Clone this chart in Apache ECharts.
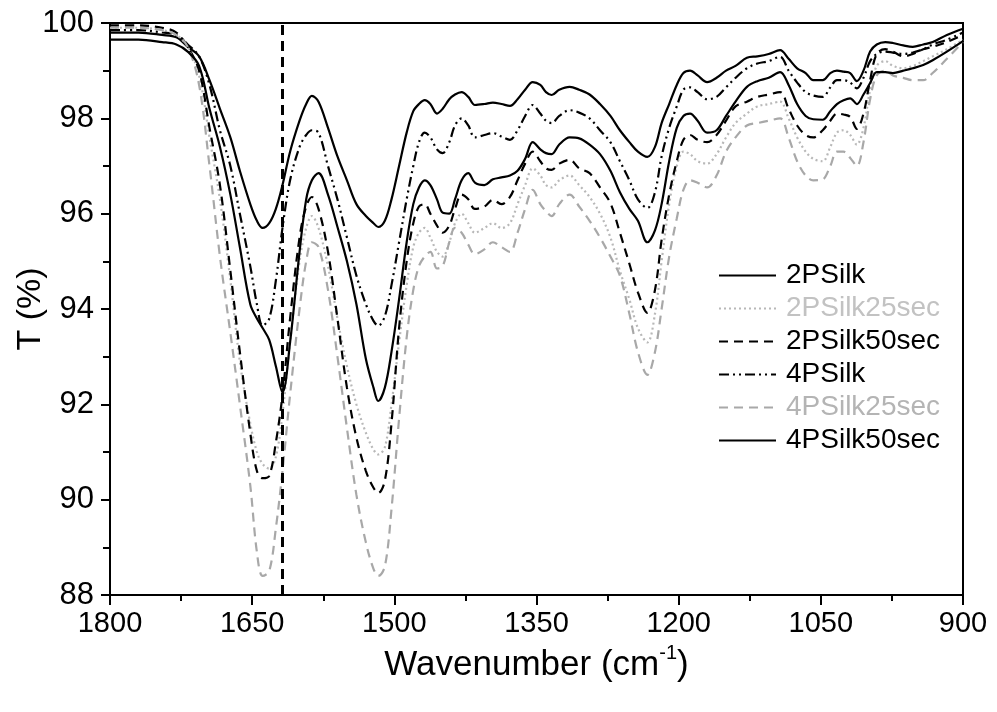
<!DOCTYPE html>
<html>
<head>
<meta charset="utf-8">
<script src="https://cdn.jsdelivr.net/npm/echarts@6/dist/echarts.min.js"></script>
<style>
  html, body { margin: 0; padding: 0; background: #fff; }
  #chart { width: 997px; height: 712px; }
</style>
</head>
<body>
<div id="chart"></div>
<script>
// wavenumber grid (cm-1), shared by every spectrum
const wavenumbers = [
  1800, 1770, 1745, 1730, 1718, 1706, 1695, 1684, 1673, 1663,
  1652, 1645, 1639, 1632, 1625, 1618, 1610, 1600, 1593, 1587,
  1580, 1570, 1560, 1550, 1540, 1530, 1522, 1517, 1510, 1503,
  1495, 1487, 1480, 1474, 1468, 1462, 1455, 1449, 1442, 1436,
  1429, 1422, 1415, 1405, 1396, 1387, 1378, 1370, 1362, 1354,
  1346, 1340, 1334, 1326, 1315, 1305, 1294, 1283, 1272, 1262,
  1252, 1243, 1233, 1225, 1218, 1210, 1202, 1195, 1188, 1180,
  1170, 1160, 1150, 1140, 1128, 1117, 1105, 1093, 1084, 1075,
  1066, 1058, 1048, 1040, 1033, 1026, 1019, 1012, 1005, 998,
  991, 982, 974, 963, 953, 942, 932, 917, 900
]

const t2PSilk = [
  99.8, 99.8, 99.75, 99.7, 99.5, 99.3, 98.8, 98.2, 97.6, 96.9,
  96.2, 95.85, 95.7, 95.8, 96.1, 96.6, 97.3, 97.95, 98.3, 98.47,
  98.35, 97.8, 97.2, 96.7, 96.2, 95.95, 95.8, 95.72, 95.85, 96.3,
  97.0, 97.7, 98.15, 98.3, 98.38, 98.3, 98.1, 98.2, 98.4, 98.5,
  98.55, 98.45, 98.28, 98.3, 98.33, 98.3, 98.26, 98.4, 98.6, 98.76,
  98.7, 98.55, 98.49, 98.6, 98.66, 98.6, 98.5, 98.3, 98.05, 97.75,
  97.5, 97.3, 97.19, 97.4, 97.9, 98.3, 98.7, 98.95, 99.0, 98.9,
  98.76, 98.85, 99.0, 99.1, 99.27, 99.3, 99.35, 99.43, 99.25, 99.05,
  98.95, 98.8, 98.8, 98.95, 99.0, 98.98, 98.95, 98.78, 99.0, 99.4,
  99.55, 99.6, 99.58, 99.53, 99.5, 99.55, 99.6, 99.75, 99.88
]

const t2PSilk25sec = [
  99.9, 99.9, 99.85, 99.75, 99.5, 98.9, 97.6, 96.3, 94.6, 92.9,
  91.6, 91.0, 90.75, 90.65, 90.9, 91.8, 93.3, 95.0, 95.7, 95.95,
  95.7, 94.9, 93.8, 92.8, 92.0, 91.4, 91.05, 90.95, 91.1, 92.0,
  93.3, 94.5, 95.3, 95.6, 95.7, 95.5, 95.2, 95.1, 95.4, 95.8,
  96.0, 95.8, 95.6, 95.7, 95.8, 95.7, 95.8, 96.2, 96.6, 96.95,
  96.8, 96.6, 96.55, 96.7, 96.8, 96.6, 96.35, 96.0, 95.5, 94.8,
  94.2, 93.6, 93.3, 93.9, 95.0, 96.2, 97.0, 97.3, 97.25, 97.1,
  97.05, 97.25, 97.6, 97.9, 98.1, 98.25, 98.3, 98.35, 98.0, 97.6,
  97.3, 97.15, 97.1, 97.4, 97.7, 97.75, 97.65, 97.45, 97.8, 98.6,
  99.1, 99.2, 99.1, 99.05, 99.1, 99.2, 99.3, 99.45, 99.65
]

const t2PSilk50sec = [
  99.95, 99.95, 99.9, 99.8, 99.5, 99.0, 97.8, 96.6, 94.8, 93.1,
  91.4, 90.6, 90.45, 90.5, 91.2, 92.2, 93.8, 95.5, 96.15, 96.35,
  96.1, 95.2, 93.8, 92.35, 91.3, 90.6, 90.25, 90.14, 90.4, 91.6,
  93.6, 95.0, 95.8, 96.15, 96.2, 96.0, 95.75, 95.6, 95.75, 96.1,
  96.4, 96.3, 96.1, 96.15, 96.29, 96.2, 96.35, 96.7, 97.05, 97.3,
  97.1, 96.95, 96.92, 97.05, 97.13, 96.95, 96.85, 96.55, 96.22, 95.6,
  94.95, 94.35, 93.92, 94.4, 95.45, 96.4, 97.1, 97.55, 97.65, 97.55,
  97.5, 97.65, 97.95, 98.25, 98.35, 98.45, 98.5, 98.55, 98.2, 97.85,
  97.65, 97.6, 97.75, 97.95, 98.1, 98.08, 98.03, 97.78, 98.1, 98.8,
  99.35, 99.45, 99.4, 99.3, 99.35, 99.45, 99.5, 99.6, 99.75
]

const t4PSilk = [
  99.85, 99.85, 99.8, 99.75, 99.55, 99.3, 98.7, 97.75, 97.0, 96.0,
  94.9, 94.1, 93.65, 93.8, 94.6, 95.7, 96.7, 97.4, 97.65, 97.75,
  97.7, 97.0, 96.3, 95.5, 94.7, 94.1, 93.75, 93.65, 93.85, 94.5,
  95.4, 96.3, 97.0, 97.5, 97.7, 97.6, 97.35, 97.27, 97.5, 97.85,
  98.0, 97.85, 97.6, 97.65, 97.69, 97.62, 97.55, 97.75, 98.05, 98.28,
  98.1, 97.95, 97.9, 98.05, 98.17, 98.12, 98.0, 97.75, 97.5, 97.1,
  96.7, 96.3, 96.12, 96.45, 97.2, 97.8, 98.25, 98.6, 98.65, 98.55,
  98.4, 98.45, 98.65, 98.85, 99.05, 99.15, 99.2, 99.29, 99.0, 98.75,
  98.55, 98.48, 98.45, 98.65, 98.8, 98.8, 98.75, 98.63, 98.85, 99.2,
  99.35, 99.4, 99.38, 99.35, 99.38, 99.45, 99.55, 99.65, 99.8
]

const t4PSilk25sec = [
  99.9, 99.9, 99.85, 99.75, 99.5, 98.7, 97.0, 95.1, 93.5, 92.0,
  90.3, 88.9, 88.4, 88.5, 89.4, 90.6, 92.2, 94.0, 95.0, 95.4,
  95.3, 94.4, 93.0, 91.5, 90.1, 89.1, 88.55, 88.4, 88.6, 89.8,
  91.7, 93.4, 94.4, 94.9, 95.1, 95.2, 94.85, 94.9, 95.4, 95.7,
  95.6, 95.35, 95.15, 95.25, 95.4, 95.3, 95.2, 95.6, 96.1, 96.5,
  96.2, 96.05, 95.95, 96.2, 96.4, 96.15, 95.85, 95.5, 95.1, 94.7,
  93.9, 93.1, 92.62, 93.1, 94.0, 95.1, 95.9, 96.5, 96.7, 96.65,
  96.55, 96.8, 97.3, 97.6, 97.85, 97.9, 97.95, 98.0, 97.6, 97.1,
  96.8, 96.7, 96.72, 97.0, 97.3, 97.3, 97.17, 97.0, 97.5, 98.4,
  98.9, 99.0, 98.9, 98.85, 98.8, 98.8, 98.95, 99.25, 99.6
]

const t4PSilk50sec = [
  99.65, 99.65, 99.6, 99.55, 99.4, 99.1, 98.2, 97.4, 96.4, 95.3,
  94.1, 93.8, 93.6, 93.35, 92.8, 92.25, 93.3, 95.2, 96.3, 96.7,
  96.85, 96.4, 95.72, 95.0, 94.1, 92.95, 92.35, 92.07, 92.35, 93.1,
  94.2, 95.4, 96.2, 96.55, 96.7, 96.6, 96.3, 96.02, 96.0, 96.3,
  96.7, 96.85, 96.65, 96.6, 96.72, 96.76, 96.8, 96.9, 97.15, 97.5,
  97.35, 97.27, 97.25, 97.45, 97.6, 97.58, 97.45, 97.25, 96.9, 96.45,
  96.1, 95.85, 95.4, 95.65, 96.2, 97.1, 97.8, 98.05, 98.1, 97.95,
  97.7, 97.75, 98.05, 98.35, 98.66, 98.78, 98.85, 98.97, 98.7, 98.3,
  98.05, 97.98, 97.97, 98.15, 98.3, 98.38, 98.42, 98.3, 98.5, 98.74,
  98.97, 98.97, 98.95, 99.0, 99.05, 99.12, 99.22, 99.4, 99.62
]

const markerWavenumber = 1618

const seriesDefs = [
  { name: '2PSilk', values: t2PSilk, color: '#000', type: 'solid', text: '#000' },
  { name: '2PSilk25sec', values: t2PSilk25sec, color: '#b8b8b8', type: [2, 3], text: '#c2c2c2' },
  { name: '2PSilk50sec', values: t2PSilk50sec, color: '#000', type: [9, 6], text: '#000' },
  { name: '4PSilk', values: t4PSilk, color: '#000', type: [10, 4, 2, 4, 2, 4], text: '#000' },
  { name: '4PSilk25sec', values: t4PSilk25sec, color: '#a8a8a8', type: [9, 6], text: '#b4b4b4' },
  { name: '4PSilk50sec', values: t4PSilk50sec, color: '#000', type: 'solid', text: '#000' }
]

const font = '"Liberation Sans", Arial, Helvetica, sans-serif'

const chart = echarts.init(document.getElementById('chart'))

const series = seriesDefs.map((s, idx) => {
  const item = {
    name: s.name,
    type: 'line',
    data: wavenumbers.map((w, i) => [w, s.values[i]]),
    smooth: 0.35,
    symbol: 'none',
    lineStyle: { color: s.color, width: 2.2, type: s.type },
    itemStyle: { color: s.color },
    z: 3
  }
  if (idx === 0) {
    item.markLine = {
      silent: true,
      symbol: 'none',
      label: { show: false },
      lineStyle: { color: '#000', type: [10, 6], width: 3 },
      data: [{ xAxis: markerWavenumber }]
    }
  }
  return item
})

const option = {
  animation: false,
  backgroundColor: '#fff',
  textStyle: { fontFamily: font },
  grid: {
    left: 110,
    right: 34,
    top: 23,
    bottom: 117,
    outerBoundsMode: 'none',
    show: true,
    borderColor: '#000',
    borderWidth: 2
  },
  legend: {
    orient: 'vertical',
    left: 713,
    top: 254,
    itemWidth: 57,
    itemHeight: 14,
    itemGap: 0,
    itemStyle: { opacity: 0 },
    textStyle: { fontFamily: font, fontSize: 28, lineHeight: 33, padding: [0, 0, 0, 5] },
    data: seriesDefs.map(s => ({ name: s.name, textStyle: { color: s.text } }))
  },
  xAxis: {
    type: 'value',
    min: 900,
    max: 1800,
    interval: 150,
    inverse: true,
    name: '{a|Wavenumber (cm}{sup|-1}{a|)}',
    nameLocation: 'middle',
    nameGap: 48,
    nameMoveOverlap: false,
    nameTextStyle: {
      color: '#000',
      rich: {
        a: { fontFamily: font, fontSize: 35, lineHeight: 44, color: '#000' },
        sup: { fontFamily: font, fontSize: 20, lineHeight: 44, verticalAlign: 'top', color: '#000', padding: [0, 0, 18, 0] }
      }
    },
    axisLine: { lineStyle: { color: '#000', width: 2 } },
    axisTick: { length: 10, lineStyle: { color: '#000', width: 2 } },
    minorTick: { show: true, splitNumber: 2, length: 6, lineStyle: { color: '#000', width: 2 } },
    splitLine: { show: false },
    axisLabel: { color: '#000', fontSize: 29, margin: 14, fontFamily: font, formatter: v => String(v) }
  },
  yAxis: {
    type: 'value',
    min: 88,
    max: 100,
    interval: 2,
    name: 'T (%)',
    nameLocation: 'middle',
    nameGap: 62,
    nameMoveOverlap: false,
    nameTextStyle: { color: '#000', fontSize: 34, fontFamily: font },
    axisLine: { lineStyle: { color: '#000', width: 2 } },
    axisTick: { length: 9, lineStyle: { color: '#000', width: 2 } },
    minorTick: { show: true, splitNumber: 2, length: 7, lineStyle: { color: '#000', width: 2 } },
    splitLine: { show: false },
    axisLabel: { color: '#000', fontSize: 31, margin: 16, fontFamily: font, formatter: v => String(v) }
  },
  series: series
}

chart.setOption(option)
</script>
</body>
</html>
